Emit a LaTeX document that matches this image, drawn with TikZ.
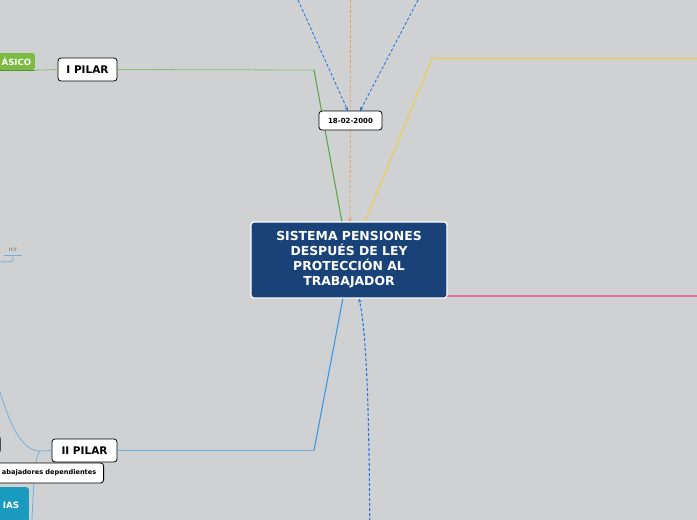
\documentclass[tikz,border=0pt]{standalone}
\usepackage{fontspec}
\setmainfont{DejaVu Sans}
\usetikzlibrary{arrows.meta}
\definecolor{bg}{RGB}{208,209,211}
\definecolor{mainblue}{RGB}{25,66,121}
\definecolor{gdark}{RGB}{92,168,72}
\definecolor{glight}{RGB}{136,190,116}
\definecolor{yell}{RGB}{236,206,78}
\definecolor{pinkl}{RGB}{226,112,150}
\definecolor{bsolid}{RGB}{58,152,230}
\definecolor{blight}{RGB}{110,176,226}
\definecolor{bdash}{RGB}{40,122,222}
\definecolor{orng}{RGB}{240,156,76}
\definecolor{tealbox}{RGB}{26,154,190}
\definecolor{greenbox}{RGB}{124,186,66}
\definecolor{greenline}{RGB}{78,150,50}
\begin{document}
\begin{tikzpicture}[x=1pt,y=-1pt,
  mainnode/.style={draw=white, line width=1.2pt, fill=mainblue, rounded corners=3pt,
    text=white, font=\fontsize{12.4}{15}\selectfont\bfseries, align=center,
    minimum width=196pt, minimum height=76pt, inner sep=0pt},
  whitebox/.style={draw=black, fill=white, line width=0.8pt, rounded corners=3pt,
    inner sep=0pt, font=\bfseries},
  colbox/.style={rounded corners=2.5pt, inner sep=0pt, text=white, font=\bfseries},
  lbl/.style={inner sep=0pt, anchor=east, font=\bfseries},
  dashconn/.style={dash pattern=on 3pt off 2pt, line width=0.9pt},
  tip/.style={-{Stealth[length=4pt,width=3.5pt]}}
]
\fill[bg] (0,0) rectangle (697,520);
\useasboundingbox (0,0) rectangle (697,520);
\clip (0,0) rectangle (697,520);

% named coordinates
\coordinate (gtop) at (314,70);
\coordinate (gstart) at (342,222);
\coordinate (ystart) at (365,222);
\coordinate (ybend) at (432,58.5);
\coordinate (yend) at (697,58.5);
\coordinate (pstart) at (447,296);
\coordinate (pend) at (697,296);
\coordinate (bstart) at (343,298);
\coordinate (bbend) at (314,450.5);
\coordinate (otop) at (350.5,0);
\coordinate (oend) at (350,222);
\coordinate (b1top) at (298,0);
\coordinate (b1end) at (348,111);
\coordinate (b2top) at (418,0);
\coordinate (b2end) at (360,111);
\coordinate (bbot) at (369.8,521);
\coordinate (bcend) at (359,298.5);
\coordinate (lup) at (0,392);
\coordinate (ldown) at (32,520);
\coordinate (lsplit) at (40,451);
\coordinate (ictleft) at (0,262);
\coordinate (ictjoin) at (13,255.5);

% connectors (behind nodes)
\draw[orng, dashconn, line width=0.8pt, tip] (otop) -- (oend);
\draw[bdash, dashconn, tip] (b1top) -- (b1end);
\draw[bdash, dashconn, tip] (b2top) -- (b2end);
\draw[bdash, dashconn, line width=1.1pt, tip] (bbot) .. controls (369,400) and (366,330) .. (bcend);
\draw[gdark, line width=1.1pt] (gstart) -- (gtop);
\draw[yell, line width=1.1pt] (ystart) -- (ybend) -- (yend);
\draw[pinkl, line width=1.1pt] (pstart) -- (pend);
\draw[bsolid, line width=1.1pt] (bstart) -- (bbend);

% nodes
\node[mainnode] (c) at (349,260) {SISTEMA PENSIONES\\DESPUÉS DE LEY\\PROTECCIÓN AL\\TRABAJADOR};
\node[whitebox, minimum width=63pt, minimum height=19pt, font=\fontsize{7}{8}\selectfont\bfseries] (d) at (350.5,120.5) {18-02-2000};
\node[whitebox, minimum width=59pt, minimum height=23pt, font=\fontsize{10.5}{12}\selectfont\bfseries] (p1) at (87.5,69.5) {I PILAR};
\node[whitebox, minimum width=65pt, minimum height=23pt, font=\fontsize{10.5}{12}\selectfont\bfseries] (p2) at (84.5,450.5) {II PILAR};

% green box (cut at left edge)
\node[colbox, fill=greenbox, minimum width=60pt, minimum height=17pt, anchor=east] (basico) at (35,61.5) {};
\node[lbl, text=white, font=\fontsize{8.6}{9}\selectfont\bfseries] (basicotxt) at (31.5,62) {ÁSICO};
\draw[greenline, line width=1.2pt] (basico.south west) -- (basico.south east);
\draw[glight, line width=0.8pt] (basico.south east) -- (p1.west);
\draw[glight, line width=0.8pt] (gtop) -- (p1.east);
\draw[blight, line width=0.8pt] (bbend) -- (p2.east);

% left side of II PILAR
\draw[blight, line width=0.8pt] (p2.west) -- (lsplit) .. controls (22,451) and (10,425) .. (lup);
\draw[blight, line width=0.8pt] (lsplit) .. controls (36,455) and (34,470) .. (ldown);
\node[draw=black!70, fill=white, line width=0.8pt, rounded corners=2pt, minimum width=30pt, minimum height=15pt, inner sep=0pt, anchor=east] (offbox) at (1,444.5) {};
\node[whitebox, minimum height=20pt, minimum width=130pt, anchor=east] (trab) at (104,473) {};
\node[lbl, font=\fontsize{6.6}{8}\selectfont\bfseries] (trabtxt) at (96.5,473) {abajadores dependientes};
\node[colbox, fill=tealbox, minimum width=60pt, minimum height=38pt, anchor=north east] (teal) at (29,487) {};
\node[lbl, text=white, font=\fontsize{8.8}{10}\selectfont\bfseries] (tealtxt) at (19.5,505.5) {IAS};

% ICT
\node[text=black!45, font=\fontsize{4.5}{5}\selectfont\bfseries, inner sep=0pt] (ict) at (13,249.5) {ICT};
\draw[blight, line width=0.8pt] (4,255.5) -- (22,255.5);
\draw[blight, line width=0.8pt, rounded corners=2pt] (ictjoin) -- (13,261.5) -- (ictleft);
\end{tikzpicture}
\end{document}
